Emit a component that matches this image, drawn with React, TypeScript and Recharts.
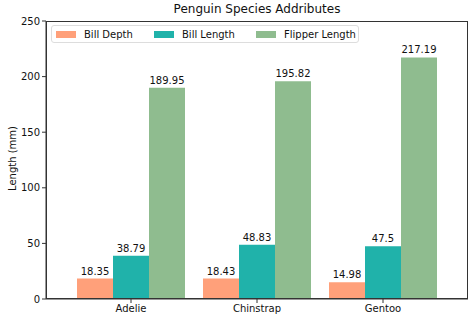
import { BarChart, Bar, XAxis, YAxis, LabelList } from 'recharts'

const species = ['Adelie', 'Chinstrap', 'Gentoo']
const billDepth = [18.35, 18.43, 14.98]
const billLength = [38.79, 48.83, 47.5]
const flipperLength = [189.95, 195.82, 217.19]
const yTicks = [0, 50, 100, 150, 200, 250]

const series = [
  { key: 'depth', name: 'Bill Depth', color: '#FFA07A' },
  { key: 'length', name: 'Bill Length', color: '#20B2AA' },
  { key: 'flipper', name: 'Flipper Length', color: '#8FBC8F' },
]

const data = species.map((s, i) => ({
  species: s,
  depth: billDepth[i],
  length: billLength[i],
  flipper: flipperLength[i],
}))

const font = 'DejaVu Sans, sans-serif'

export default function App() {
  return (
    <div style={{ position: 'absolute', left: 0, top: 0, width: 474, height: 323, background: '#fff', fontFamily: font }}>
      <div style={{ position: 'absolute', left: 46, width: 422, top: 2, textAlign: 'center', fontSize: 12, color: '#111' }}>
        Penguin Species Addributes
      </div>
      <div
        style={{
          position: 'absolute',
          left: -28,
          top: 153,
          width: 80,
          textAlign: 'center',
          fontSize: 10,
          color: '#111',
          transform: 'rotate(-90deg)',
        }}
      >
        Length (mm)
      </div>
      <BarChart
        width={474}
        height={323}
        data={data}
        margin={{ top: 21, right: 6, bottom: 0, left: 0 }}
        barGap={0}
        barCategoryGap={9}
      >
        <XAxis
          dataKey="species"
          height={24}
          padding={{ left: 22, right: 22 }}
          tick={{ fontSize: 10, fill: '#111', fontFamily: font }}
          tickSize={4}
          tickMargin={2}
          stroke="#333"
        />
        <YAxis
          width={46}
          domain={[0, 250]}
          ticks={yTicks}
          tick={{ fontSize: 10, fill: '#111', fontFamily: font }}
          tickSize={4}
          tickMargin={2}
          stroke="#333"
        />
        {series.map((s) => (
          <Bar key={s.key} dataKey={s.key} name={s.name} fill={s.color} isAnimationActive={false}>
            <LabelList dataKey={s.key} position="top" offset={4} style={{ fontSize: 10, fill: '#111', fontFamily: font }} />
          </Bar>
        ))}
      </BarChart>
      {/* spine box */}
      <div style={{ position: 'absolute', left: 46, top: 21, width: 422, height: 278, border: '1px solid #333', boxSizing: 'border-box', pointerEvents: 'none' }} />
      {/* legend */}
      <div
        style={{
          position: 'absolute',
          left: 51,
          top: 25,
          width: 308,
          height: 18,
          border: '1px solid #ddd',
          borderRadius: 3,
          background: 'rgba(255,255,255,0.8)',
          boxSizing: 'border-box',
          fontSize: 10,
          color: '#111',
        }}
      >
        {series.map((s, i) => (
          <div key={s.key} style={{ position: 'absolute', left: [4, 102, 204][i], top: 2, display: 'flex', alignItems: 'center', height: 13 }}>
            <span style={{ display: 'inline-block', width: 20, height: 7, background: s.color, marginRight: 8 }} />
            <span>{s.name}</span>
          </div>
        ))}
      </div>
    </div>
  )
}
